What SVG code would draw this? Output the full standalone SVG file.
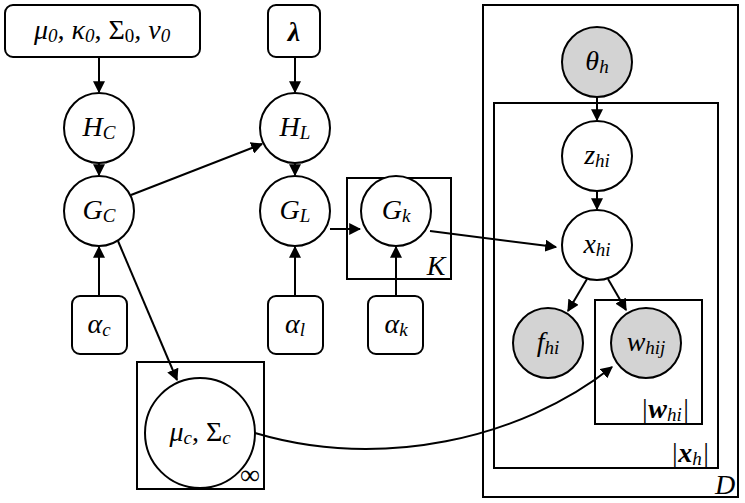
<svg xmlns="http://www.w3.org/2000/svg" width="745" height="503" viewBox="0 0 745 503">
<style>
.n{fill:#fff;stroke:#000;stroke-width:2}
.g{fill:#d3d3d3;stroke:#000;stroke-width:2}
.p{fill:none;stroke:#000;stroke-width:2}
.e{fill:none;stroke:#000;stroke-width:2;marker-end:url(#a)}
text{font-family:"Liberation Serif",serif;font-style:italic;font-size:28px;text-anchor:middle;dominant-baseline:central}
.s{font-size:19px}
.r{font-style:normal}
</style>
<defs><marker id="a" viewBox="0 0 10 10" refX="9" refY="5" markerWidth="6" markerHeight="6" orient="auto"><path d="M0,0L10,5L0,10z"/></marker></defs>
<rect width="745" height="503" fill="#fff"/>
<g id="plateD"><rect class="p" x="483" y="5" width="255" height="492"/><text x="725" y="484">D</text></g>
<g id="plateX"><rect class="p" x="494" y="103" width="224" height="365"/><text x="690" y="452">|<tspan font-weight="bold">x</tspan><tspan class="s" dy="6">h</tspan><tspan dy="-6">|</tspan></text></g>
<g id="plateW"><rect class="p" x="595" y="300" width="107" height="124"/><text x="665" y="408">|<tspan font-weight="bold">w</tspan><tspan class="s" dy="6">hi</tspan><tspan dy="-6">|</tspan></text></g>
<g id="plateK"><rect class="p" x="347" y="178" width="104" height="101"/><text x="436" y="265">K</text></g>
<g id="plateInf"><rect class="p" x="137" y="362" width="127" height="127"/><text x="250" y="474" class="r">∞</text></g>
<g id="edges">
<path class="e" d="M99,57V92"/><path class="e" d="M99,163V175"/><path class="e" d="M99,296V247"/>
<path class="e" d="M131,195L262,144"/><path class="e" d="M118,241L177,380"/>
<path class="e" d="M295,57V92"/><path class="e" d="M295,163V175"/><path class="e" d="M295,296V247"/>
<path class="e" d="M330,229L360,229"/><path class="e" d="M396,296V247"/>
<path class="e" d="M430,231L556,247"/>
<path class="e" d="M597,97V120"/><path class="e" d="M597,191V209"/>
<path class="e" d="M587,279L568,311"/><path class="e" d="M608,279L626,310"/>
<path class="e" d="M255,433C380,470 520,440 612,367"/>
</g>
<g id="prior"><rect class="n" x="5" y="5" width="195" height="52" rx="8"/><text x="102" y="29">μ<tspan class="s" dy="6">0</tspan><tspan dy="-6">, κ</tspan><tspan class="s" dy="6">0</tspan><tspan dy="-6" style="font-style:normal">, Σ</tspan><tspan class="s" dy="6" style="font-style:normal">0</tspan><tspan dy="-6">, ν</tspan><tspan class="s" dy="6">0</tspan></text></g>
<g id="lambda"><rect class="n" x="268" y="5" width="52" height="52" rx="8"/><text x="294" y="31" font-weight="bold">λ</text></g>
<g id="HC"><circle class="n" cx="99" cy="128" r="35"/><text x="99" y="126">H<tspan class="s" dy="6">C</tspan></text></g>
<g id="GC"><circle class="n" cx="99" cy="211" r="35"/><text x="99" y="209">G<tspan class="s" dy="6">C</tspan></text></g>
<g id="ac"><rect class="n" x="72" y="296" width="55" height="58" rx="8"/><text x="99" y="323">α<tspan class="s" dy="6">c</tspan></text></g>
<g id="HL"><circle class="n" cx="295" cy="128" r="35"/><text x="295" y="126">H<tspan class="s" dy="6">L</tspan></text></g>
<g id="GL"><circle class="n" cx="295" cy="211" r="35"/><text x="295" y="209">G<tspan class="s" dy="6">L</tspan></text></g>
<g id="al"><rect class="n" x="268" y="296" width="55" height="58" rx="8"/><text x="295" y="323">α<tspan class="s" dy="6">l</tspan></text></g>
<g id="Gk"><circle class="n" cx="396" cy="211" r="35"/><text x="396" y="209">G<tspan class="s" dy="6">k</tspan></text></g>
<g id="ak"><rect class="n" x="368" y="296" width="55" height="58" rx="8"/><text x="396" y="323">α<tspan class="s" dy="6">k</tspan></text></g>
<g id="mu"><circle class="n" cx="200" cy="433" r="55"/><text x="200" y="431">μ<tspan class="s" dy="6">c</tspan><tspan dy="-6" style="font-style:normal">, Σ</tspan><tspan class="s" dy="6">c</tspan></text></g>
<g id="theta"><circle class="g" cx="597" cy="62" r="35"/><text x="597" y="60">θ<tspan class="s" dy="6">h</tspan></text></g>
<g id="z"><circle class="n" cx="597" cy="156" r="35"/><text x="597" y="154">z<tspan class="s" dy="6">hi</tspan></text></g>
<g id="x"><circle class="n" cx="597" cy="245" r="35"/><text x="597" y="243">x<tspan class="s" dy="6">hi</tspan></text></g>
<g id="f"><circle class="g" cx="548" cy="343" r="35"/><text x="548" y="341">f<tspan class="s" dy="6">hi</tspan></text></g>
<g id="w"><circle class="g" cx="646" cy="343" r="35"/><text x="646" y="341">w<tspan class="s" dy="6">hij</tspan></text></g>
</svg>
